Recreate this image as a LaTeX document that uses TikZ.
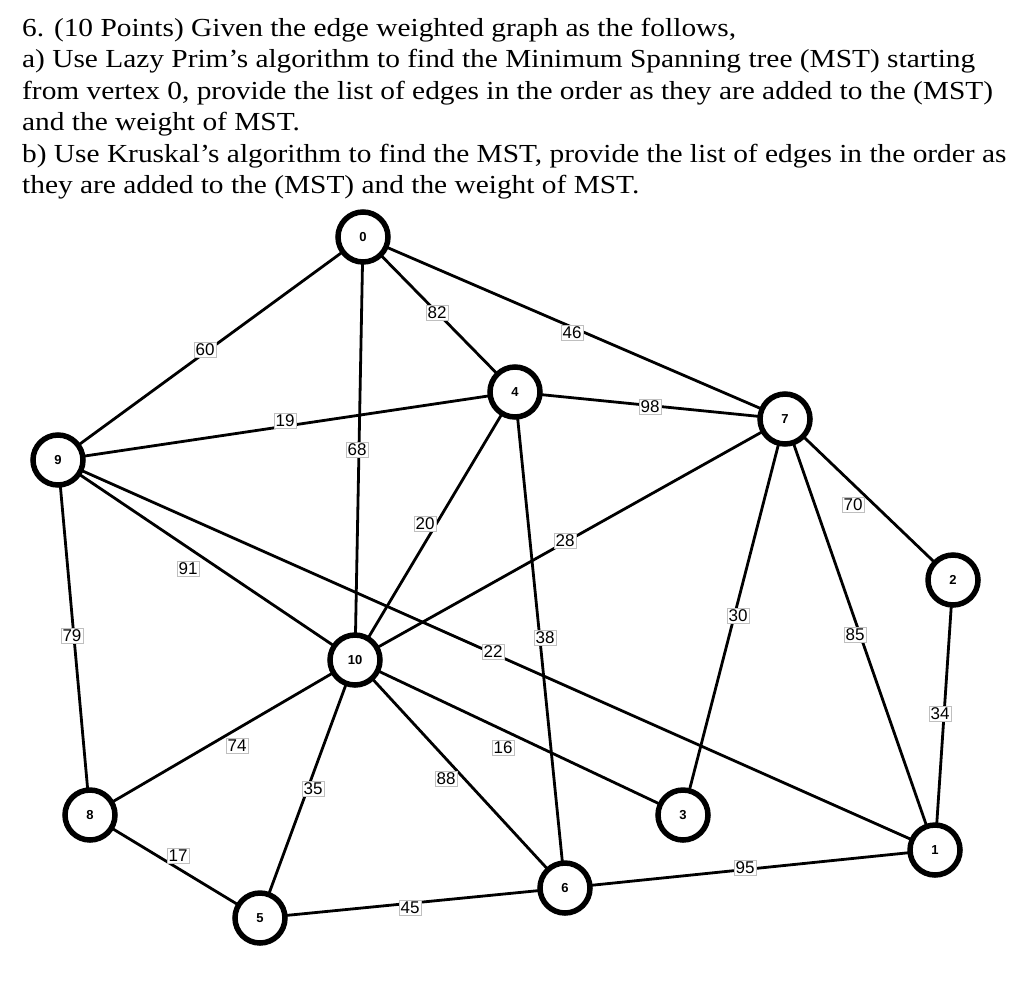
\documentclass[tikz,border=0pt]{standalone}
\usepackage{fontspec}
\setmainfont[FakeStretch=1.13]{Liberation Serif}
\setsansfont{Liberation Sans}
\begin{document}
\begin{tikzpicture}[x=1pt,y=-1pt,
 vert/.style={circle,draw,line width=5.5pt,fill=white,minimum size=50pt,inner sep=0pt,font=\sffamily\bfseries\fontsize{13}{14}\selectfont},
 edge/.style={line width=2.8pt},
 wt/.style={fill=white,draw=black!25,line width=0.6pt,inner sep=1.5pt,font=\sffamily\fontsize{17}{18}\selectfont},
 ttl/.style={anchor=base west,inner sep=0pt,font=\fontsize{26}{28}\selectfont}]
\useasboundingbox (0,0) rectangle (1024,999);
\node[ttl] (t1) at (22,36) {6. (10 Points) Given the edge weighted graph as the follows,};
\node[ttl] (t2) at (22,67) {a) Use Lazy Prim’s algorithm to find the Minimum Spanning tree (MST) starting};
\node[ttl] (t3) at (22,99) {from vertex 0, provide the list of edges in the order as they are added to the (MST)};
\node[ttl] (t4) at (22,130) {and the weight of MST.};
\node[ttl] (t5) at (22,162) {b) Use Kruskal’s algorithm to find the MST, provide the list of edges in the order as};
\node[ttl] (t6) at (22,193) {they are added to the (MST) and the weight of MST.};
\coordinate (p0) at (363,237); \coordinate (p4) at (515,392); \coordinate (p7) at (785,419);
\coordinate (p9) at (58,460); \coordinate (p2) at (953,580); \coordinate (p10) at (355,660);
\coordinate (p8) at (90,815); \coordinate (p3) at (683,815); \coordinate (p1) at (935,850);
\coordinate (p6) at (565,888); \coordinate (p5) at (260,918);
\foreach \a/\b in {0/9,0/10,0/4,0/7,9/4,4/7,4/10,4/6,7/10,7/2,7/3,7/1,2/1,9/10,9/1,9/8,10/8,10/5,10/6,10/3,8/5,5/6,6/1}
  \draw[edge] (p\a) -- (p\b);
\foreach \t/\x/\y in {60/205/350,68/357/450,82/437/313,46/572/333,19/285/421,98/650/407,20/425/524,28/565/541,70/853/505,30/738/616,85/855/635,34/940/714,91/188/569,22/493/652,38/545/638,79/72/636,74/237/746,35/313/789,88/446/779,16/503/748,17/178/856,95/745/868,45/410/908}
  \node[wt] (w\t) at (\x,\y) {\t};
\foreach \n in {0,4,7,9,2,10,8,3,1,6,5}
  \node[vert] (v\n) at (p\n) {\n};
\end{tikzpicture}
\end{document}
